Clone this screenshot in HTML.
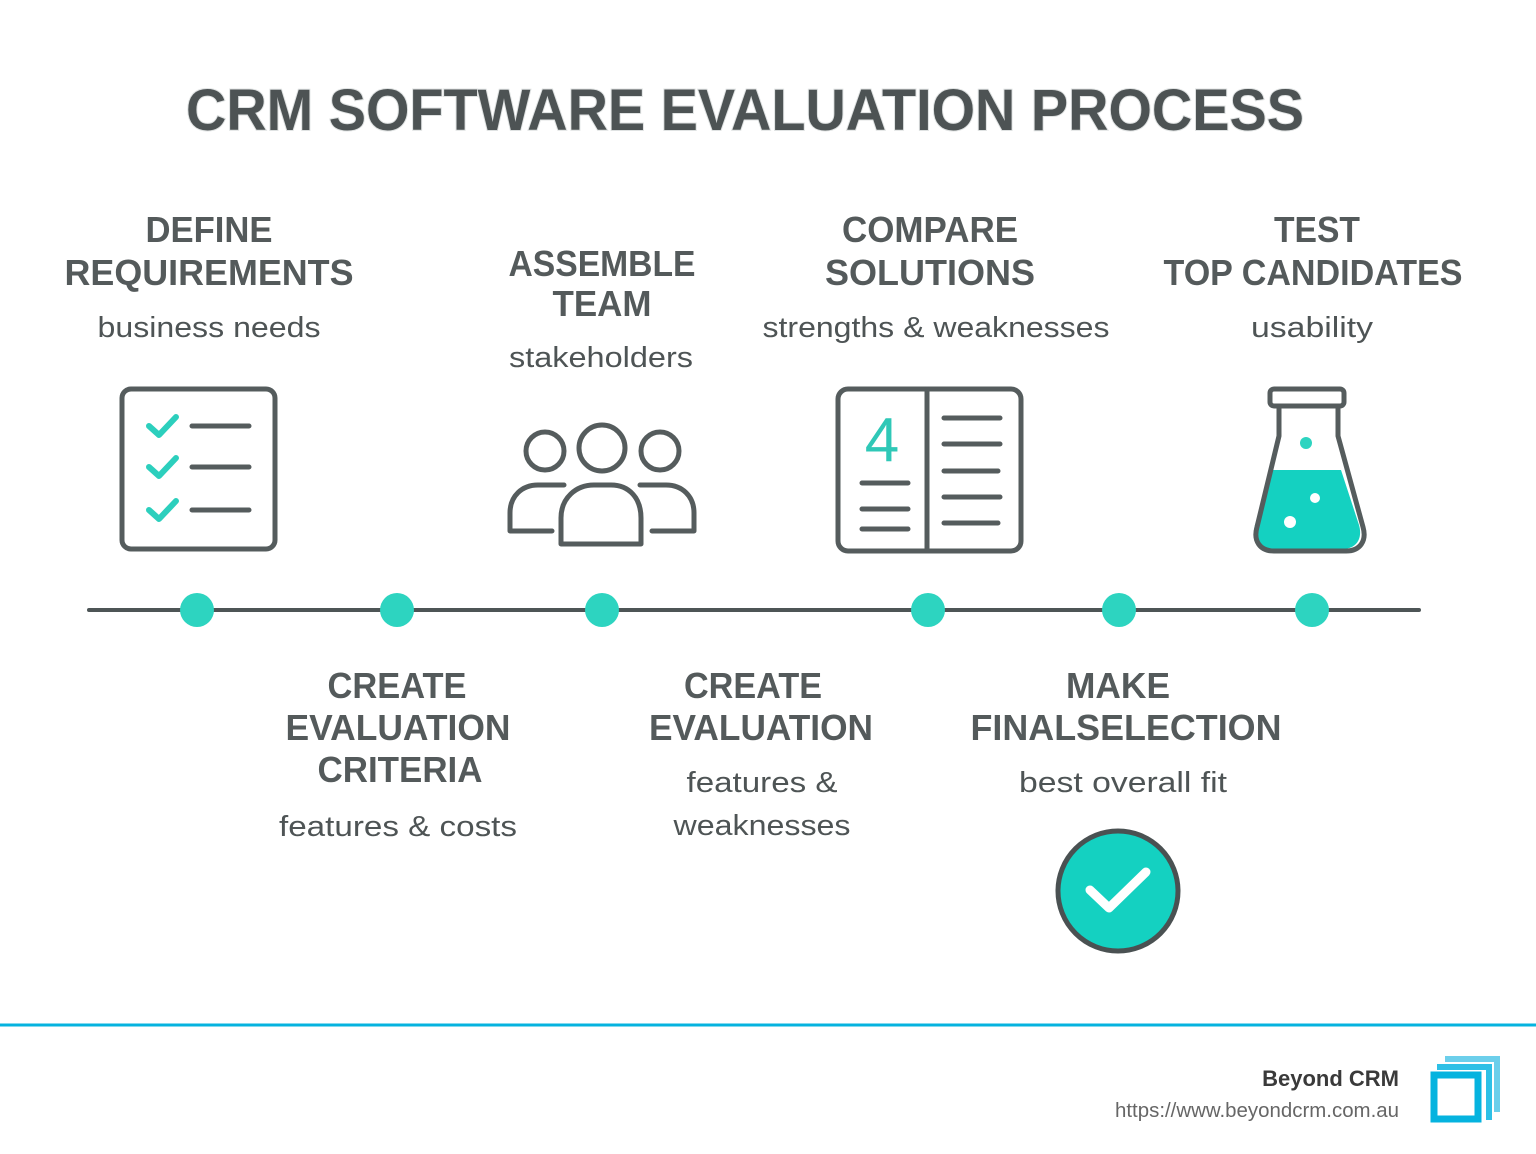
<!DOCTYPE html>
<html><head><meta charset="utf-8"><style>
html,body{margin:0;padding:0;background:#fff}
svg{display:block}
.h{font-family:"Liberation Sans",sans-serif;font-weight:bold;fill:#545a5b;font-size:36px;text-anchor:middle}
.s{font-family:"Liberation Sans",sans-serif;fill:#4e5455;font-size:29px;text-anchor:middle}
.ic{fill:none;stroke:#555c5d;stroke-width:5;stroke-linecap:round;stroke-linejoin:round}
.tl{fill:none;stroke:#2ccfbd;stroke-width:6;stroke-linecap:round;stroke-linejoin:round}
</style></head><body>
<svg width="1536" height="1154" viewBox="0 0 1536 1154" xmlns="http://www.w3.org/2000/svg">
<rect width="1536" height="1154" fill="#fff"/>
<text x="745" y="130" font-family="Liberation Sans,sans-serif" font-weight="bold" font-size="58" fill="#4d5354" text-anchor="middle" textLength="1118" lengthAdjust="spacingAndGlyphs" style="paint-order:stroke" stroke="#dfe2e2" stroke-width="2">CRM SOFTWARE EVALUATION PROCESS</text>

<text class="h" x="209" y="242" textLength="127" lengthAdjust="spacingAndGlyphs">DEFINE</text>
<text class="h" x="209" y="285" textLength="289" lengthAdjust="spacingAndGlyphs">REQUIREMENTS</text>
<text class="s" x="209" y="337" textLength="223" lengthAdjust="spacingAndGlyphs">business needs</text>

<text class="h" x="602" y="276" textLength="187" lengthAdjust="spacingAndGlyphs">ASSEMBLE</text>
<text class="h" x="602" y="316" textLength="99" lengthAdjust="spacingAndGlyphs">TEAM</text>
<text class="s" x="601" y="367" textLength="184" lengthAdjust="spacingAndGlyphs">stakeholders</text>

<text class="h" x="930" y="242" textLength="176" lengthAdjust="spacingAndGlyphs">COMPARE</text>
<text class="h" x="930" y="285" textLength="210" lengthAdjust="spacingAndGlyphs">SOLUTIONS</text>
<text class="s" x="936" y="337" textLength="347" lengthAdjust="spacingAndGlyphs">strengths &amp; weaknesses</text>

<text class="h" x="1317" y="242" textLength="86" lengthAdjust="spacingAndGlyphs">TEST</text>
<text class="h" x="1313" y="285" textLength="299" lengthAdjust="spacingAndGlyphs">TOP CANDIDATES</text>
<text class="s" x="1312" y="337" textLength="122" lengthAdjust="spacingAndGlyphs">usability</text>

<text class="h" x="397" y="698" textLength="139" lengthAdjust="spacingAndGlyphs">CREATE</text>
<text class="h" x="398" y="740" textLength="225" lengthAdjust="spacingAndGlyphs">EVALUATION</text>
<text class="h" x="400" y="782" textLength="165" lengthAdjust="spacingAndGlyphs">CRITERIA</text>
<text class="s" x="398" y="836" textLength="238" lengthAdjust="spacingAndGlyphs">features &amp; costs</text>

<text class="h" x="753" y="698" textLength="138" lengthAdjust="spacingAndGlyphs">CREATE</text>
<text class="h" x="761" y="740" textLength="224" lengthAdjust="spacingAndGlyphs">EVALUATION</text>
<text class="s" x="762" y="792" textLength="151" lengthAdjust="spacingAndGlyphs">features &amp;</text>
<text class="s" x="762" y="835" textLength="177" lengthAdjust="spacingAndGlyphs">weaknesses</text>

<text class="h" x="1118" y="698" textLength="104" lengthAdjust="spacingAndGlyphs">MAKE</text>
<text class="h" x="1126" y="740" textLength="311" lengthAdjust="spacingAndGlyphs">FINALSELECTION</text>
<text class="s" x="1123" y="792" textLength="208" lengthAdjust="spacingAndGlyphs">best overall fit</text>

<line x1="89" y1="610" x2="1419" y2="610" stroke="#4d5556" stroke-width="4" stroke-linecap="round"/>
<g fill="#2dd4c0">
<circle cx="197" cy="610" r="17"/><circle cx="397" cy="610" r="17"/><circle cx="602" cy="610" r="17"/>
<circle cx="928" cy="610" r="17"/><circle cx="1119" cy="610" r="17"/><circle cx="1312" cy="610" r="17"/>
</g>

<rect class="ic" x="122" y="389" width="153" height="160" rx="9"/>
<path class="tl" d="M149 426l10 9 17-18M149 467l10 9 17-18M149 510l10 9 17-18"/>
<path class="ic" d="M192 426h57M192 467h57M192 510h57"/>

<circle class="ic" cx="545" cy="451" r="19"/>
<circle class="ic" cx="602" cy="448" r="23"/>
<circle class="ic" cx="660" cy="451" r="19"/>
<path class="ic" d="M552 531h-42v-18c0-17 12-28 28-28h26"/>
<path class="ic" d="M652 531h42v-18c0-17-12-28-28-28h-26"/>
<path class="ic" d="M561 544v-26c0-20 15-33 33-33h17c18 0 30 13 30 33v26z"/>

<rect class="ic" x="838" y="389" width="183" height="162" rx="10"/>
<line class="ic" x1="927" y1="389" x2="927" y2="551"/>
<text x="882" y="461" font-family="Liberation Sans,sans-serif" font-size="62" fill="#2fc8b7" text-anchor="middle">4</text>
<path class="ic" d="M862 483h46M862 509h46M862 529h46M944 418h56M944 444h56M944 471h54M944 497h56M944 523h54"/>

<path d="M1271 470h70l18 55c4 14-3 24-17 24h-70c-14 0-21-10-17-24z" fill="#14d1c1"/>
<rect class="ic" x="1270" y="389" width="74" height="17" rx="4"/>
<path class="ic" d="M1279 406v30l-22 91c-4 14 3 24 17 24h72c14 0 21-10 17-24l-25-91v-30"/>
<circle cx="1306" cy="443" r="6" fill="#2dd4c0"/>
<circle cx="1315" cy="498" r="5" fill="#fff"/>
<circle cx="1290" cy="522" r="6" fill="#fff"/>

<circle cx="1118" cy="891" r="60" fill="#14d1c1" stroke="#4a5152" stroke-width="5"/>
<path d="M1090 890l19 18 37-36" fill="none" stroke="#fff" stroke-width="9" stroke-linecap="round" stroke-linejoin="round"/>

<line x1="0" y1="1025" x2="1536" y2="1025" stroke="#05b3df" stroke-width="3"/>
<text x="1399" y="1086" font-family="Liberation Sans,sans-serif" font-weight="bold" font-size="22" fill="#3a3a3a" text-anchor="end">Beyond CRM</text>
<text x="1399" y="1117" font-family="Liberation Sans,sans-serif" font-size="20" fill="#666" text-anchor="end" textLength="284" lengthAdjust="spacingAndGlyphs">https://www.beyondcrm.com.au</text>
<path d="M1445 1056h55v56h-6v-50h-49z" fill="#6ccfeb"/>
<path d="M1437 1064h55v56h-6v-50h-49z" fill="#2ec0e6"/>
<rect x="1434" y="1075" width="44" height="44" fill="none" stroke="#05b3df" stroke-width="7"/>
</svg>
</body></html>
